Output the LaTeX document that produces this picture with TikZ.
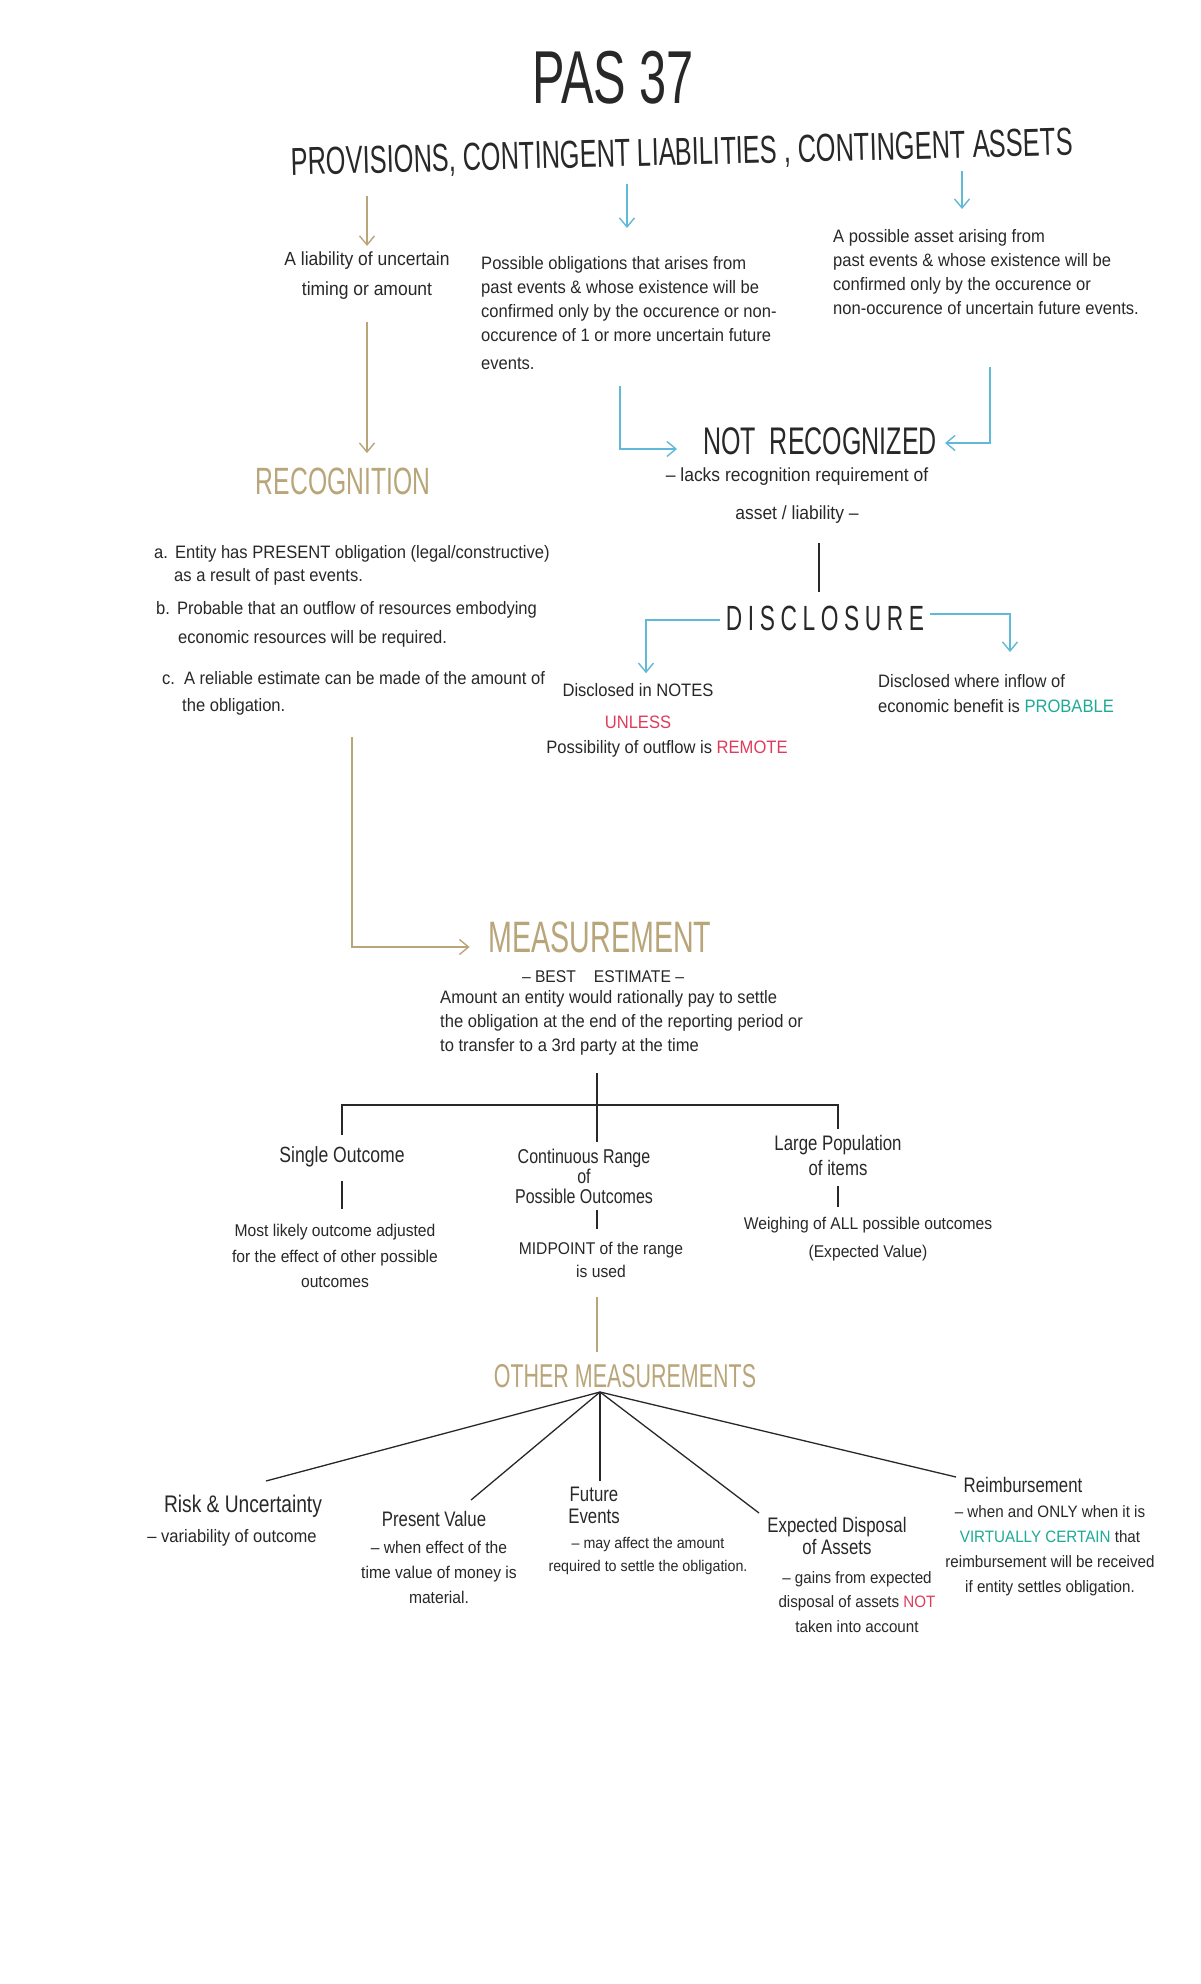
\documentclass[tikz,border=0pt]{standalone}
\usepackage{fontspec}
\newfontfamily\hand[FakeStretch=0.92]{Liberation Sans}
\newfontfamily\handm[FakeStretch=0.8]{Liberation Sans}
\newfontfamily\handn[FakeStretch=0.65]{Liberation Sans}
\newfontfamily\handls[FakeStretch=0.65,LetterSpace=16]{Liberation Sans}
\usetikzlibrary{arrows.meta}
\definecolor{ink}{RGB}{40,40,40}
\definecolor{tanc}{RGB}{185,165,122}
\definecolor{bluec}{RGB}{95,185,215}
\definecolor{redc}{RGB}{222,60,92}
\definecolor{tealc}{RGB}{30,170,150}
\begin{document}
\begin{tikzpicture}[x=1pt,y=-1pt,
  txt/.style={inner sep=0pt, align=center, text=ink, font=\hand\fontsize{18}{24}\selectfont},
  ltxt/.style={inner sep=0pt, align=left, text=ink, anchor=north west, font=\hand\fontsize{18}{24}\selectfont},
  small/.style={inner sep=0pt, align=center, text=ink, font=\hand\fontsize{17}{25}\selectfont},
  sub/.style={inner sep=0pt, align=center, text=ink, font=\handm\fontsize{21}{23}\selectfont},
  headtan/.style={inner sep=0pt, text=tanc},
  tanarr/.style={draw=tanc, line width=1.4pt, -{Straight Barb[length=9pt,width=15pt]}},
  bluearr/.style={draw=bluec, line width=1.4pt, -{Straight Barb[length=9pt,width=15pt]}},
  tanline/.style={draw=tanc, line width=1.4pt},
  inkline/.style={draw=ink, line width=1.3pt},
]
\useasboundingbox[fill=white] (0,0) rectangle (1200,1984);

% ---------- title ----------
\node[inner sep=0pt, text=ink, font=\handn\fontsize{75}{75}\selectfont] (title) at (613,78) {PAS 37};
\node[inner sep=0pt, text=ink, font=\handn\fontsize{39}{40}\selectfont, rotate=1.5] (subtitle) at (682,154)
  {PROVISIONS, CONTINGENT LIABILITIES , CONTINGENT ASSETS};

% ---------- three definitions ----------
\node[txt, font=\hand\fontsize{19}{30}\selectfont] (liab) at (367,276) {A liability of uncertain\\timing or amount};
\node[ltxt] (possobl) at (481,256) {Possible obligations that arises from\\past events \& whose existence will be\\confirmed only by the occurence or non-\\occurence of 1 or more uncertain future\\[4pt]events.};
\node[ltxt] (posasset) at (833,229) {A possible asset arising from\\past events \& whose existence will be\\confirmed only by the occurence or\\non-occurence of uncertain future events.};

\draw[tanarr] ([yshift=56pt]liab.north) -- ([yshift=6pt]liab.north);
\draw[bluearr] ([xshift=146pt,yshift=72pt]possobl.north west) -- ([xshift=146pt,yshift=28pt]possobl.north west);
\draw[bluearr] ([xshift=129pt,yshift=58pt]posasset.north west) -- ([xshift=129pt,yshift=20pt]posasset.north west);

% ---------- recognition ----------
\node[headtan, font=\handn\fontsize{38}{40}\selectfont] (recog) at (343,481) {RECOGNITION};
\draw[tanarr] ([yshift=-22pt]liab.south) -- ++(0,131);

\node[ltxt, font=\hand\fontsize{18}{23}\selectfont] (lista) at (154,545)
  {a.\hspace{7pt}Entity has PRESENT obligation (legal/constructive)\\\hspace*{20pt}as a result of past events.};
\node[ltxt, font=\hand\fontsize{18}{29}\selectfont] (listb) at (156,601)
  {b.\hspace{7pt}Probable that an outflow of resources embodying\\\hspace*{22pt}economic resources will be required.};
\node[ltxt, font=\hand\fontsize{18}{27}\selectfont] (listc) at (162,671)
  {c.\hspace{9pt}A reliable estimate can be made of the amount of\\\hspace*{20pt}the obligation.};

% ---------- not recognized ----------
\node[inner sep=0pt, text=ink, font=\handn\fontsize{38.5}{40}\selectfont] (notrec) at (820,441) {NOT\ \ RECOGNIZED};
\draw[bluearr] ([xshift=139pt,yshift=-130pt]possobl.north west) |- ([xshift=-26pt,yshift=-8pt]notrec.west);
\draw[bluearr] ([xshift=157pt,yshift=-138pt]posasset.north west) |- ([xshift=8pt,yshift=-2pt]notrec.east);

\node[txt, font=\hand\fontsize{19}{38}\selectfont] (lacks) at (797,496)
  {– lacks recognition requirement of\\asset / liability –};

\node[inner sep=0pt, text=ink, font=\handls\fontsize{35}{36}\selectfont] (disc) at (825,618) {DISCLOSURE};
\draw[inkline] ([xshift=22pt,yshift=-19pt]lacks.south) -- ([xshift=-6pt,yshift=13pt]disc.north);

\node[txt] (notes) at (638,690) {Disclosed in NOTES};
\node[txt, text=redc] (unless) at (638,722) {UNLESS};
\node[txt] (remote) at (667,749) {Possibility of outflow is \textcolor{redc}{REMOTE}};
\node[ltxt, font=\hand\fontsize{18}{25}\selectfont] (inflow) at (878,674)
  {Disclosed where inflow of\\economic benefit is \textcolor{tealc}{PROBABLE}};

\draw[bluearr] ([xshift=-6pt,yshift=-2pt]disc.west) -| ([xshift=8pt,yshift=10pt]notes.north);
\draw[bluearr] ([xshift=6pt,yshift=4pt]disc.east) -| ([xshift=132pt,yshift=22pt]inflow.north west);

% ---------- measurement ----------
\node[headtan, font=\handn\fontsize{44}{46}\selectfont] (meas) at (600,937) {MEASUREMENT};
\coordinate (mstart) at (352,737);
\draw[tanarr] (mstart) |- ([xshift=-19pt,yshift=-10pt]meas.west);

\node[txt, font=\hand\fontsize{17}{20}\selectfont] (best) at (603,977) {– BEST\hspace{18pt}ESTIMATE –};
\node[ltxt] (amount) at (440,990)
  {Amount an entity would rationally pay to settle\\the obligation at the end of the reporting period or\\to transfer to a 3rd party at the time};

% tree
\coordinate (treetop) at (597,1073);
\coordinate (bar) at (597,1105);
\node[sub, font=\handm\fontsize{22}{24}\selectfont] (single) at (342,1157) {Single Outcome};
\node[sub, font=\handm\fontsize{20}{20}\selectfont] (cont) at (584,1176) {Continuous Range\\of\\Possible Outcomes};
\node[sub, font=\handm\fontsize{21}{25}\selectfont] (large) at (838,1155) {Large Population\\of items};

\draw[inkline] (treetop) -- (bar);
\draw[inkline] ([yshift=12pt]single.north) -- (single.north |- bar) -- (large.north |- bar) -- ([yshift=6pt]large.north);
\draw[inkline] (bar) -- ([yshift=6pt]bar |- cont.north);

\node[small, font=\hand\fontsize{17}{25.5}\selectfont] (likely) at (335,1256)
  {Most likely outcome adjusted\\for the effect of other possible\\outcomes};
\node[small, font=\hand\fontsize{17}{23}\selectfont] (mid) at (601,1260) {MIDPOINT of the range\\is used};
\node[small, font=\hand\fontsize{17}{28}\selectfont] (weigh) at (868,1239) {Weighing of ALL possible outcomes\\(Expected Value)};

\draw[inkline] (single.south) ++(0,14) -- ++(0,28);
\draw[inkline] (cont.south -| mid) ++(-4,6) -- ++(0,19);
\draw[inkline] (large.south) ++(0,11) -- ++(0,21);

% ---------- other measurements ----------
\node[headtan, font=\handn\fontsize{33}{35}\selectfont] (othm) at (625,1376) {OTHER MEASUREMENTS};
\draw[tanline] (mid.south) ++(-4,19) -- ++(0,55);

\coordinate (fan) at (600,1392);
\coordinate (e1) at (266,1481);
\coordinate (e2) at (471,1500);
\coordinate (e3) at (600,1481);
\coordinate (e4) at (759,1513);
\coordinate (e5) at (956,1477);
\foreach \e in {e1,e2,e3,e4,e5} \draw[inkline] (fan) -- (\e);

\node[sub, font=\handm\fontsize{24}{26}\selectfont] (risk) at (243,1506) {Risk \& Uncertainty};
\node[txt] (riskd) at (232,1538) {– variability of outcome};

\node[sub] (pv) at (434,1519) {Present Value};
\node[small] (pvd) at (439,1572) {– when effect of the\\time value of money is\\material.};

\node[sub, font=\handm\fontsize{21}{22}\selectfont] (fut) at (594,1505) {Future\\Events};
\node[small, font=\hand\fontsize{15.5}{23}\selectfont] (futd) at (648,1556) {– may affect the amount\\required to settle the obligation.};

\node[sub, font=\handm\fontsize{21}{22}\selectfont] (exp) at (837,1536) {Expected Disposal\\of Assets};
\node[small, font=\hand\fontsize{16.5}{24.5}\selectfont] (expd) at (857,1602)
  {– gains from expected\\disposal of assets \textcolor{redc}{NOT}\\taken into account};

\node[sub] (reim) at (1023,1485) {Reimbursement};
\node[small, font=\hand\fontsize{16.5}{25}\selectfont] (reimd) at (1050,1551)
  {– when and ONLY when it is\\\textcolor{tealc}{VIRTUALLY CERTAIN} that\\reimbursement will be received\\if entity settles obligation.};

\end{tikzpicture}
\end{document}
